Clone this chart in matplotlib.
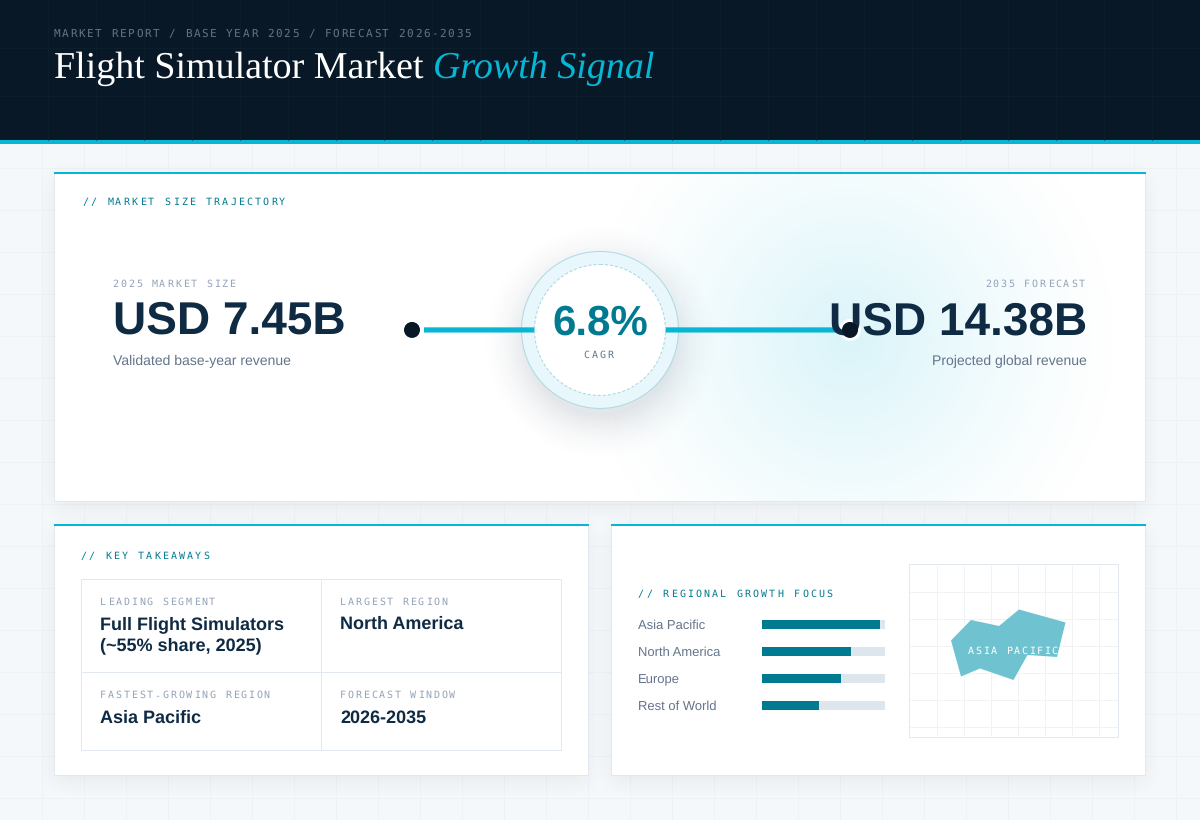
import numpy as np
import matplotlib
matplotlib.use('Agg')
import matplotlib.pyplot as plt
from matplotlib.patches import Rectangle, Circle, Polygon

# 数据
regions = ['Asia Pacific', 'North America', 'Europe', 'Rest of World']
region_values = [96, 72, 64, 46]
start_label = '2025 MARKET SIZE'
start_value = 'USD 7.45B'
end_label = '2035 FORECAST'
end_value = 'USD 14.38B'
cagr_value = '6.8%'
takeaway_labels = ['LEADING SEGMENT', 'LARGEST REGION', 'FASTEST-GROWING REGION', 'FORECAST WINDOW']
takeaway_values = ['Full Flight Simulators\n(~55% share, 2025)', 'North America', 'Asia Pacific', '2026-2035']

NAVY = '#081826'
INK = '#0f2a43'
CYAN = '#06b6d4'
TEAL = '#007a91'
SLATE = '#64748b'
MUTED = '#94a3b8'
LINE = '#e2e8f0'
W, H = 1200, 820
ONE_PX = 0.72

plt.rcParams['text.hinting'] = 'no_hinting'

fig = plt.figure(figsize=(W / 100, 8.201), dpi=100)
ax = fig.add_axes([0, 0, 1, 1])
ax.set_xlim(0, W)
ax.set_ylim(H, 0)
ax.axis('off')
fig.patch.set_facecolor('#f5f8fa')


def px(size):
    return size * 0.72


def spaced(x, y, s, size, pitch, color, ha='left', zorder=8):
    # matplotlib 没有字间距，逐字放置
    if ha == 'right':
        x = x - pitch * len(s) + (pitch - size * 0.602)
    for i, ch in enumerate(s):
        ax.text(x + i * pitch, y, ch, fontsize=px(size), family='DejaVu Sans Mono', color=color,
                va='baseline', ha='left', zorder=zorder)


def sans(x, y, s, size, color, weight='normal', ha='left', zorder=8):
    ax.text(x, y, s, fontsize=px(size), family='Liberation Sans', color=color, weight=weight,
            ha=ha, va='baseline', zorder=zorder)


def shadow(x0, y0, x1, y1, blur, alpha, color=(0.06, 0.16, 0.26), zorder=2):
    # 卡片的柔和阴影
    xs = np.arange(W) + 0.5
    ys = np.arange(H) + 0.5
    fx = np.clip((xs - x0 + blur) / (2 * blur), 0, 1) * np.clip((x1 + blur - xs) / (2 * blur), 0, 1)
    fy = np.clip((ys - y0 + blur) / (2 * blur), 0, 1) * np.clip((y1 + blur - ys) / (2 * blur), 0, 1)
    img = np.zeros((H, W, 4))
    img[..., :3] = color
    img[..., 3] = np.outer(fy ** 2 * (3 - 2 * fy), fx ** 2 * (3 - 2 * fx)) * alpha
    ax.imshow(img, extent=(0, W, H, 0), zorder=zorder, aspect='auto', interpolation='bilinear')


# 背景网格
ax.vlines(np.arange(42, W, 42), 144, H, color='#eff2f5', lw=ONE_PX, zorder=1)
ax.hlines(np.arange(168, H, 42) + 0.5, 0, W, color='#eff2f5', lw=ONE_PX, zorder=1)

# 顶部
ax.add_patch(Rectangle((0, 0), W, 140, fc=NAVY, ec='none', zorder=1))
ax.add_patch(Rectangle((0, 140), W, 4, fc=CYAN, ec='none', zorder=1))
ax.vlines(np.arange(48, W, 48), 0, 140, color='#0b1e2b', lw=ONE_PX, zorder=1.5)
ax.hlines(np.arange(48, 140, 48) + 0.5, 0, W, color='#0b1e2b', lw=ONE_PX, zorder=1.5)
spaced(54, 37, 'MARKET REPORT / BASE YEAR 2025 / FORECAST 2026-2035', 11, 8.2, '#64737e')
ax.text(54, 78, 'Flight Simulator Market', fontsize=px(38), family='Liberation Serif', color='white',
        va='baseline', zorder=8)
ax.text(433, 78, 'Growth Signal', fontsize=px(38), family='Liberation Serif', style='italic', color=CYAN,
        va='baseline', zorder=8)

# 卡片
cards = [(54, 172.5, 1145, 501.5), (54, 524.5, 588, 775.5), (611, 524.5, 1145, 775.5)]
for x0, y0, x1, y1 in cards:
    shadow(x0, y0 + 6, x1, y1 + 6, 20, 0.07)
for x0, y0, x1, y1 in cards:
    ax.add_patch(Rectangle((x0, y0), x1 - x0, y1 - y0, fc='white', ec=LINE, lw=ONE_PX, zorder=3))
    ax.add_patch(Rectangle((x0, y0 - 0.5), x1 - x0 + 1, 2, fc=CYAN, ec='none', zorder=6))

# 主卡片的光晕
yy, xx = np.mgrid[174:501, 55:1145]
dist = np.hypot(xx - 850, yy - 340)
glow = np.zeros(dist.shape + (4,))
glow[..., :3] = (0.0, 0.72, 0.85)
glow[..., 3] = np.clip(1 - dist / 280, 0, 1) ** 1.3 * 0.15
ax.imshow(glow, extent=(55, 1145, 501, 174), zorder=3.5, aspect='auto', interpolation='bilinear')

spaced(82.5, 205, '// MARKET SIZE TRAJECTORY', 10, 8.2, TEAL)
spaced(112.5, 287, start_label, 10, 7.8, MUTED)
sans(113, 334, start_value, 46, INK, weight='bold')
sans(113, 365, 'Validated base-year revenue', 14, SLATE)
spaced(1085, 287, end_label, 10, 7.85, MUTED, ha='right')
sans(1087, 334, end_value, 46, INK, weight='bold', ha='right', zorder=7)
sans(1087, 365, 'Projected global revenue', 14, SLATE, ha='right')

# 连接线和端点
ax.add_patch(Rectangle((424, 327.4), 414, 5.2, fc=CYAN, ec='none', zorder=5, snap=False))
ax.add_patch(Circle((412, 330), 8, fc=NAVY, ec='none', zorder=6))
ax.add_patch(Circle((850, 330), 11, fc='white', ec='none', zorder=5.5))
ax.add_patch(Circle((850, 330), 8, fc=NAVY, ec='none', zorder=7.5))

# CAGR 圆
yy, xx = np.mgrid[210:470, 470:730]
d = np.hypot(xx - 600, yy - 342)
halo = np.zeros(d.shape + (4,))
halo[..., :3] = (0.06, 0.16, 0.26)
halo[..., 3] = np.clip((124 - d) / 50, 0, 1) ** 2 * 0.11
ax.imshow(halo, extent=(470, 730, 470, 210), zorder=4, aspect='auto', interpolation='bilinear')
ax.add_patch(Circle((600, 330), 78.5, fc='#e8f7fb', ec='#b0d9e2', lw=ONE_PX, zorder=5.6))
ax.add_patch(Rectangle((521, 327.4), 14, 5.2, fc=CYAN, ec='none', zorder=5.7, snap=False))
ax.add_patch(Rectangle((665, 327.4), 14, 5.2, fc=CYAN, ec='none', zorder=5.7, snap=False))
ax.add_patch(Circle((600, 330), 65.5, fc='white', ec='#a9d6e0', lw=ONE_PX, ls=(0, (3, 2)), zorder=5.8))
sans(600, 335, cagr_value, 42, TEAL, weight='bold', ha='center')
spaced(583.5, 358, 'CAGR', 10, 8.0, SLATE)

# 要点表格
spaced(80.5, 559, '// KEY TAKEAWAYS', 10, 8.2, TEAL)
ax.add_patch(Rectangle((81, 579.5), 480, 171, fc='white', ec=LINE, lw=ONE_PX, zorder=5))
ax.vlines(321, 580, 750, color=LINE, lw=ONE_PX, zorder=6)
ax.hlines(672.5, 82, 561, color=LINE, lw=ONE_PX, zorder=6)
cell_pos = [(100, 605, 629), (340, 605, 629), (100, 698, 723), (340, 698, 723)]
for (cx, ly, vy), lab, val in zip(cell_pos, takeaway_labels, takeaway_values):
    spaced(cx, ly, lab, 10, 7.8, MUTED)
    for k, part in enumerate(val.split('\n')):
        sans(cx, vy + k * 21, part, 18, INK, weight='bold')

# 区域条形
spaced(638, 597, '// REGIONAL GROWTH FOCUS', 10, 8.2, TEAL)
for i, name in enumerate(regions):
    sans(638, 629 + i * 27, name, 13, SLATE)
bar_ax = fig.add_axes([762 / W, 1 - 719 / H, 123 / W, 108 / H])
bar_ax.set_xlim(0, 100)
bar_ax.set_ylim(3.5, -0.5)
bar_ax.axis('off')
bar_ax.patch.set_alpha(0)
bar_ax.barh(range(len(regions)), [100] * len(regions), height=1 / 3, color='#dce6ec')
bar_ax.barh(range(len(regions)), region_values, height=1 / 3, color=TEAL)

# 地图
ax.add_patch(Rectangle((909, 564.5), 209, 173, fc='white', ec=LINE, lw=ONE_PX, zorder=5))
ax.vlines(np.arange(937, 1118, 27), 565, 737, color='#f0f3f5', lw=ONE_PX, zorder=5.1)
ax.hlines(np.arange(592, 737, 27) + 0.5, 910, 1118, color='#f0f3f5', lw=ONE_PX, zorder=5.1)
map_shape = [(971, 620), (999, 626), (1019, 609.5), (1065.5, 622.5), (1057, 657), (1027.5, 655),
             (1013.5, 680), (980, 668.5), (961, 676.5), (951, 640.5)]
ax.add_patch(Polygon(map_shape, closed=True, fc='#6fc3d1', ec='none', zorder=6))
spaced(968, 654, 'ASIA PACIFIC', 10, 7.6, 'white')

ax.set_xlim(0, W)
ax.set_ylim(H, 0)
fig.savefig('out.png', dpi=100, facecolor=fig.get_facecolor())
